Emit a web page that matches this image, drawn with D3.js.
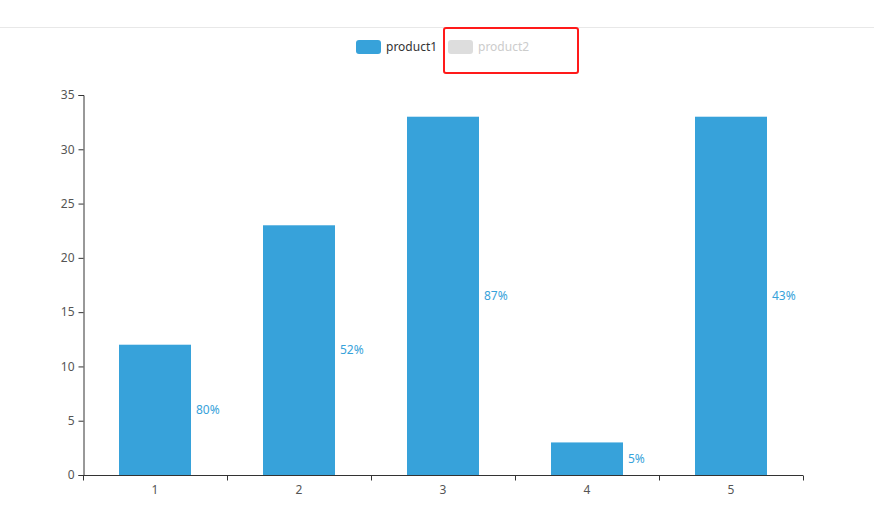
<!DOCTYPE html>
<html><head><meta charset="utf-8">
<script src="https://cdn.jsdelivr.net/npm/d3@7/dist/d3.min.js"></script>
<style>
html,body{margin:0;padding:0;background:#fff;}
svg{display:block;font-family:"Microsoft YaHei","Noto Sans","DejaVu Sans",sans-serif;}
</style></head>
<body>
<svg id="c" width="874" height="506"></svg>
<script>
const categories = ["1","2","3","4","5"];
const product1 = [12, 23, 33, 3, 33];
const labels = ["80%","52%","87%","5%","43%"];
const yTicks = [0,5,10,15,20,25,30,35];
const seriesNames = ["product1","product2"];
const seriesColors = ["#37a2da","#dddddd"];

const svg = d3.select("#c");
const mLeft = 83, mRight = 803, mTop = 95, mBottom = 475;

// top separator line
svg.append("line").attr("x1",0).attr("x2",874).attr("y1",27.5).attr("y2",27.5)
  .attr("stroke","#e8e8e8").attr("stroke-width",1);

const x = d3.scaleBand().domain(categories).range([mLeft,mRight]).paddingInner(0).paddingOuter(0);
const y = d3.scaleLinear().domain([0,35]).range([mBottom,mTop]);

// bars
const bw = x.bandwidth()*0.5;
svg.append("g").selectAll("rect").data(product1).join("rect")
  .attr("x",(d,i)=>x(categories[i])+x.bandwidth()/2-bw/2)
  .attr("y",d=>y(d))
  .attr("width",bw)
  .attr("height",d=>y(0)-y(d))
  .attr("fill",seriesColors[0]);

// labels
svg.append("g").selectAll("text").data(product1).join("text")
  .attr("x",(d,i)=>x(categories[i])+x.bandwidth()/2+bw/2+5)
  .attr("y",d=>y(d/2))
  .attr("dy","0.35em")
  .attr("font-size",12)
  .attr("fill",seriesColors[0])
  .text((d,i)=>labels[i]);

// y axis
const ya = svg.append("g").attr("transform",`translate(${mLeft+0.5},0)`)
  .call(d3.axisLeft(y).tickValues(yTicks).tickSize(5).tickPadding(4));
ya.select(".domain").attr("stroke","#333");
ya.selectAll(".tick line").attr("stroke","#333");
ya.selectAll(".tick text").attr("fill","#555").attr("font-size",12)
  .style("font-family",'"Microsoft YaHei","Noto Sans","DejaVu Sans",sans-serif');

// x axis
const xa = svg.append("g").attr("transform",`translate(0,${mBottom+0.5})`)
  .call(d3.axisBottom(x).tickSize(0).tickPadding(10));
xa.select(".domain").attr("stroke","#333").attr("d",`M${mLeft},0H${mRight}`);
xa.selectAll(".tick text").attr("fill","#555").attr("font-size",12)
  .style("font-family",'"Microsoft YaHei","Noto Sans","DejaVu Sans",sans-serif');
const bounds = [mLeft].concat(categories.map(c=>x(c)+x.bandwidth()));
xa.append("g").selectAll("line").data(bounds).join("line")
  .attr("x1",d=>Math.round(d)+0.5).attr("x2",d=>Math.round(d)+0.5)
  .attr("y1",0).attr("y2",5).attr("stroke","#333");

// legend
const legendX = [356, 448];
const lg = svg.append("g");
seriesNames.forEach((n,i)=>{
  lg.append("rect").attr("x",legendX[i]).attr("y",40).attr("width",25).attr("height",14)
    .attr("rx",3).attr("fill",seriesColors[i]);
  lg.append("text").attr("x",legendX[i]+30).attr("y",47).attr("dy","0.35em")
    .attr("font-size",12).attr("fill",i===0?"#333":"#cccccc").text(n);
});

// red highlight box
svg.append("rect").attr("x",444).attr("y",28).attr("width",134).attr("height",45)
  .attr("rx",2).attr("fill","none").attr("stroke","#ff1a1a").attr("stroke-width",2);
</script>
</body></html>
